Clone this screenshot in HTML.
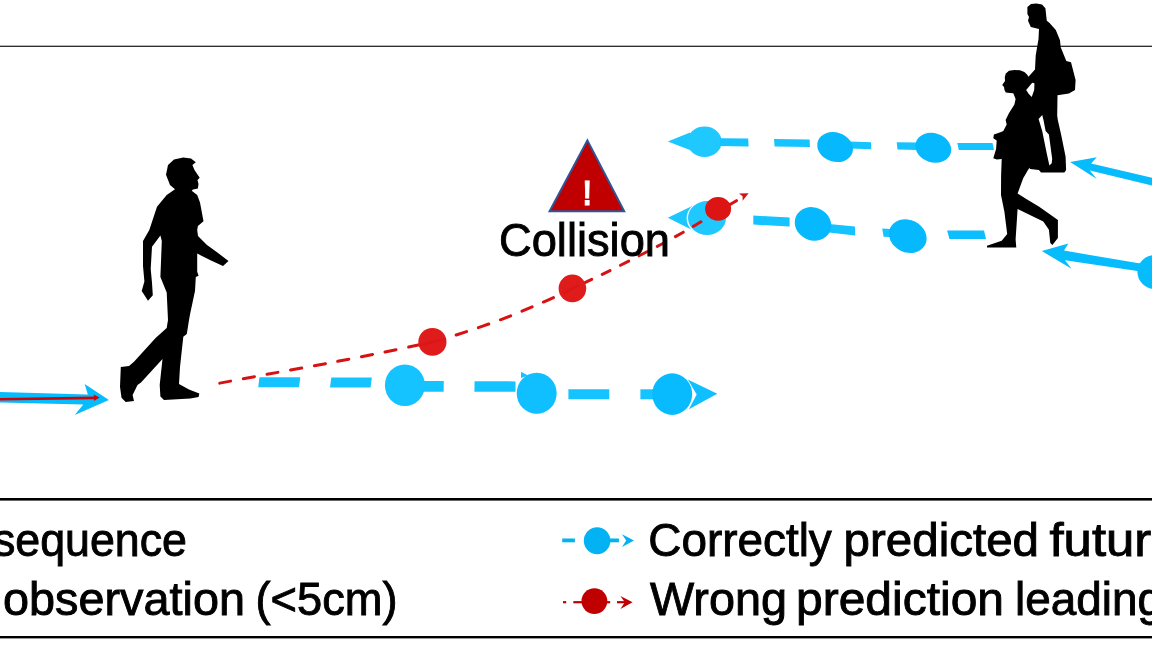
<!DOCTYPE html>
<html lang="en">
<head>
<meta charset="utf-8">
<title>Collision prediction figure</title>
<style>
html,body{margin:0;padding:0;background:#fff;overflow:hidden}
body{width:1152px;height:648px;position:relative;font-family:"Liberation Sans",sans-serif}
svg{display:block;position:absolute;left:0;top:0}
svg text{font-family:"Liberation Sans",sans-serif}
</style>
</head>
<body>
<svg width="1152" height="648" viewBox="0 0 1152 648">
<rect x="0" y="0" width="1152" height="648" fill="#fff"/>
<rect x="0" y="45.65" width="1152" height="1.35" fill="#2e2e2e"/>
<rect x="0" y="498" width="1152" height="2.6" fill="#000"/>
<rect x="0" y="636" width="1152" height="2.4" fill="#000"/>
<polygon points="0.0,392.0 87.8,394.4 84.7,384.0 108.9,400.0 74.7,415.1 83.3,404.6 0.0,402.6" fill="#07bcfd"/>
<polygon points="0.0,398.0 94.0,396.6 93.6,394.6 99.6,397.6 93.9,401.0 94.0,399.2 0.0,400.6" fill="#cf0505"/>
<polygon points="259.5,377.3 300.3,377.3 299.0,387.3 258.2,387.3" fill="#14c3ff"/>
<polygon points="331.3,377.5 371.8,377.5 370.6,387.5 330.0,387.5" fill="#14c3ff"/>
<polygon points="420.0,381.0 443.8,381.0 443.6,391.8 420.0,391.8" fill="#14c3ff"/>
<polygon points="474.6,381.2 515.5,381.4 515.5,391.8 474.4,391.8" fill="#14c3ff"/>
<polygon points="521.0,371.8 528.0,375.6 521.0,378.0" fill="#14c3ff"/>
<polygon points="568.4,389.3 609.3,389.3 609.3,399.3 568.4,399.3" fill="#14c3ff"/>
<ellipse cx="404.9" cy="385.2" rx="20" ry="20.8" fill="#14c3ff" transform="rotate(0 404.9 385.2)"/>
<ellipse cx="536.7" cy="393.3" rx="20" ry="20.5" fill="#0fbfff" transform="rotate(0 536.7 393.3)"/>
<polygon points="717.3,393.8 687.8,379.6 696.7,394.4 688.9,409.3" fill="#0fbfff"/>
<ellipse cx="671.4" cy="394.1" rx="21.4" ry="21.6" fill="#fff" transform="rotate(0 671.4 394.1)"/>
<polygon points="640.4,389.3 660.0,389.3 660.0,399.3 640.4,399.3" fill="#14c3ff"/>
<ellipse cx="672.2" cy="394.1" rx="20" ry="20.8" fill="#08bbff" transform="rotate(0 672.2 394.1)"/>
<polygon points="667.8,141.6 690.0,132.5 694.0,151.5" fill="#1cc6ff"/>
<ellipse cx="704.5" cy="141.7" rx="17.2" ry="15.2" fill="#1fc8ff" transform="rotate(0 704.5 141.7)"/>
<polygon points="720.0,138.2 748.2,138.6 748.6,146.4 720.0,146.0" fill="#14c3ff"/>
<polygon points="774.0,138.9 809.6,139.6 810.0,147.0 774.6,146.4" fill="#14c3ff"/>
<polygon points="850.0,141.6 871.0,142.2 871.3,149.2 850.0,148.6" fill="#14c3ff"/>
<polygon points="896.7,142.2 918.0,142.6 918.0,149.9 897.5,149.6" fill="#14c3ff"/>
<polygon points="957.3,142.9 992.5,142.9 994.0,150.0 958.8,150.0" fill="#14c3ff"/>
<ellipse cx="835.1" cy="147.1" rx="18.2" ry="14.6" fill="#06b9ff" transform="rotate(18 835.1 147.1)"/>
<ellipse cx="933.3" cy="147.8" rx="18.2" ry="14.6" fill="#06b9ff" transform="rotate(18 933.3 147.8)"/>
<polygon points="667.8,217.8 692.2,206.0 690.5,218.5 694.6,231.3" fill="#1cc6ff"/>
<ellipse cx="706.2" cy="218.3" rx="19.6" ry="17.6" fill="#fff" transform="rotate(0 706.2 218.3)"/>
<ellipse cx="707" cy="218.1" rx="19" ry="17" fill="#1fc8ff" transform="rotate(0 707 218.1)"/>
<polygon points="753.3,215.6 789.6,217.4 789.6,226.6 753.3,224.6" fill="#14c3ff"/>
<polygon points="829.0,224.0 854.9,226.6 855.2,235.4 829.0,232.4" fill="#14c3ff"/>
<polygon points="882.2,228.4 895.0,229.2 895.0,237.2 883.6,236.7" fill="#14c3ff"/>
<polygon points="947.1,230.6 984.0,230.6 986.0,239.0 949.5,239.0" fill="#0cbdff"/>
<ellipse cx="813" cy="223.9" rx="18.6" ry="16.4" fill="#06b9ff" transform="rotate(24 813 223.9)"/>
<ellipse cx="907.8" cy="236.1" rx="19.4" ry="16.2" fill="#06b9ff" transform="rotate(26 907.8 236.1)"/>
<polygon points="1070.1,161.9 1096.8,157.2 1091.2,163.4 1152.0,177.8 1152.0,185.6 1089.8,170.6 1096.8,178.9" fill="#07bcfd"/>
<polygon points="1041.8,251.1 1068.4,243.6 1064.0,250.6 1137.3,263.1 1152.0,264.5 1152.0,272.0 1137.3,270.9 1065.0,260.2 1071.6,268.7" fill="#07bcfd"/>
<ellipse cx="1155" cy="272" rx="17.6" ry="17" fill="#07bcfd" transform="rotate(0 1155 272)"/>
<path d="M218.9,383.3 C226.9,381.8 247.6,377.9 266.7,374.4 C285.8,370.9 311.1,366.4 333.3,362.2 C355.5,357.9 383.5,352.3 400.0,348.9 C416.5,345.5 427.0,343.0 432.4,341.8" fill="none" stroke="#d61212" stroke-width="3.0" stroke-dasharray="11.2 12.8" stroke-dashoffset="-1" stroke-linecap="round"/>
<path d="M432.4,341.8 C436.1,340.8 442.8,339.4 454.4,335.6 C465.9,331.9 486.9,324.9 501.7,319.3 C516.5,313.7 531.5,307.2 543.3,302.1 C555.1,297.0 567.5,290.7 572.4,288.4" fill="none" stroke="#d61212" stroke-width="3.0" stroke-dasharray="11 12.3" stroke-dashoffset="-1.5" stroke-linecap="round"/>
<path d="M572.4,288.4 C577.7,285.9 593.0,278.9 604.4,273.3 C615.8,267.7 630.4,260.2 640.6,255.0 C650.8,249.8 657.7,246.2 665.6,242.0 C673.5,237.8 682.0,232.9 687.8,229.6 C693.6,226.3 695.2,225.2 700.6,222.0 C706.0,218.8 713.4,214.4 720.0,210.5 C726.6,206.6 737.1,200.3 740.5,198.3" fill="none" stroke="#d61212" stroke-width="3.0" stroke-dasharray="9 11.6" stroke-dashoffset="8.3" stroke-linecap="round"/>
<ellipse cx="432.4" cy="341.9" rx="14.1" ry="13.9" fill="#e01b1b" transform="rotate(0 432.4 341.9)"/>
<ellipse cx="572.4" cy="288.4" rx="13.8" ry="13.8" fill="#e01b1b" transform="rotate(0 572.4 288.4)"/>
<ellipse cx="718.1" cy="208.9" rx="13" ry="11.9" fill="#dc1414" transform="rotate(0 718.1 208.9)"/>
<path d="M420,345 L446,338.8" fill="none" stroke="#d61212" stroke-width="2.4" opacity="0.55"/>
<path d="M563,293.5 L579,285" fill="none" stroke="#d61212" stroke-width="2.4" opacity="0.55"/>
<polygon points="748.6,193.2 739.0,193.4 742.6,196.2 742.6,200.8" fill="#d61212"/>
<polygon points="587.4,140.4 624.2,211.2 549.6,211.2" fill="#c00000" stroke="#2f5597" stroke-width="2" stroke-linejoin="miter"/>
<polygon points="183.3,157.4 191.0,158.5 195.8,162.2 192.4,165.0 194.5,170.0 199.7,177.8 197.5,180.0 198.5,184.0 197.9,188.6 193.0,189.5 191.7,190.7 197.2,194.9 200.0,202.5 203.5,221.3 197.9,226.0 197.2,230.0 198.0,236.0 207.0,245.0 216.7,252.0 228.5,261.0 223.0,266.0 211.0,260.5 197.2,253.6 197.2,271.7 198.6,275.8 195.8,277.0 195.0,291.0 190.3,313.0 189.0,320.0 186.8,334.0 183.3,336.7 180.0,367.0 179.0,384.0 189.0,389.4 199.3,393.6 198.6,397.0 190.3,398.5 164.0,400.0 160.4,396.4 159.7,385.0 162.5,359.0 141.0,382.5 137.5,385.0 132.6,395.0 134.0,401.0 125.7,402.0 121.5,397.8 120.0,386.7 120.8,367.0 129.0,366.0 134.0,361.7 155.6,338.0 166.7,328.0 168.0,320.0 166.7,292.5 160.4,277.0 161.8,241.0 160.4,235.6 152.0,246.7 150.7,269.0 152.0,282.8 152.8,295.3 148.0,300.8 141.7,291.0 144.4,281.4 143.0,266.0 143.0,241.0 149.3,230.0 157.0,206.7 166.7,194.9 175.0,189.3 170.0,185.0 166.0,174.7 168.0,165.0 174.0,159.5" fill="#000"/>
<polygon points="1036.4,3.5 1042.0,4.5 1045.4,8.3 1046.8,20.8 1049.6,23.0 1055.8,29.9 1060.0,40.3 1060.7,47.2 1066.3,61.0 1071.0,62.2 1075.6,80.0 1075.0,90.0 1068.9,93.5 1057.5,95.3 1057.2,115.6 1057.8,120.0 1061.1,134.4 1065.6,156.7 1066.1,170.0 1064.4,172.4 1041.1,172.4 1038.9,170.0 1030.0,168.9 1020.0,150.0 1016.0,100.0 1024.0,80.0 1029.4,75.7 1035.0,69.4 1035.7,55.5 1038.5,39.0 1039.0,29.0 1030.8,27.0 1028.0,20.8 1029.0,17.0 1027.4,14.0 1027.4,7.0 1031.0,4.0" fill="#000"/>
<polygon points="1014.4,70.0 1020.0,70.3 1024.4,72.0 1027.5,75.0 1029.0,79.0 1028.8,84.0 1026.5,88.5 1025.0,91.0 1028.0,96.0 1034.0,104.0 1036.0,130.0 1032.8,156.7 1031.7,164.4 1028.0,170.0 1023.2,178.3 1017.6,193.6 1026.7,199.2 1039.2,206.8 1055.8,218.6 1057.9,220.0 1057.9,238.0 1052.4,245.0 1050.3,243.0 1048.9,229.7 1043.3,221.4 1017.6,208.9 1015.6,239.4 1016.3,247.5 987.0,247.5 987.0,245.7 1001.7,240.8 1007.2,233.9 1004.4,211.7 1001.0,195.0 1001.1,175.6 1001.7,158.9 996.7,159.4 993.3,158.3 996.1,148.9 996.7,140.6 993.3,138.3 993.9,134.4 1001.1,132.0 1003.3,131.1 1006.7,124.4 1005.6,120.0 1006.7,117.8 1008.9,113.3 1014.4,104.4 1015.6,98.9 1013.3,93.3 1010.0,93.0 1005.8,92.4 1004.5,90.0 1004.0,87.0 1002.2,85.0 1005.0,81.0 1004.8,77.0 1005.8,73.5 1009.0,70.8" fill="#000"/>
<polygon points="1038.6,119.0 1042.2,115.0 1043.5,120.0 1045.6,131.0 1048.9,134.4 1052.2,158.9 1051.7,163.3 1049.4,165.6 1046.7,153.3 1042.2,131.1" fill="#fff"/>
<polygon points="1026.2,90.0 1029.5,86.0 1032.2,82.8 1034.4,83.3 1034.2,90.0 1031.7,97.0 1028.6,93.8" fill="#fff"/>
<rect x="562.2" y="538.5" width="12.7" height="3.8" fill="#03b2f3"/>
<rect x="606" y="538.5" width="12.9" height="3.8" fill="#03b2f3"/>
<ellipse cx="597.1" cy="540.8" rx="13.3" ry="13.5" fill="#03b2f3" transform="rotate(0 597.1 540.8)"/>
<polygon points="634.0,540.4 622.0,534.2 626.2,540.4 622.0,546.9" fill="#03b2f3"/>
<rect x="563" y="601.1" width="3.2" height="2.2" fill="#c00000"/>
<rect x="573.3" y="601.1" width="10" height="2.2" fill="#c00000"/>
<rect x="605" y="601.1" width="5.2" height="2.2" fill="#c00000"/>
<rect x="617" y="601.1" width="10" height="2.2" fill="#c00000"/>
<ellipse cx="594.4" cy="601.1" rx="12.9" ry="12.9" fill="#c00000" transform="rotate(0 594.4 601.1)"/>
<polygon points="632.6,602.2 620.4,596.0 624.8,602.2 620.4,609.0" fill="#c00000"/>
<text x="499" y="255.6" font-size="45.6" textLength="171" lengthAdjust="spacingAndGlyphs" fill="#000" stroke="#000" stroke-width="0.9" font-weight="normal">Collision</text>
<text x="582.4" y="204.6" font-size="35" textLength="9.4" lengthAdjust="spacingAndGlyphs" fill="#fff" stroke="#fff" stroke-width="0.9" font-weight="bold">!</text>
<text x="-7" y="555.5" font-size="45.6" textLength="194" lengthAdjust="spacingAndGlyphs" fill="#000" stroke="#000" stroke-width="0.9" font-weight="normal">sequence</text>
<text x="3" y="615.4" font-size="45.6" textLength="242" lengthAdjust="spacingAndGlyphs" fill="#000" stroke="#000" stroke-width="0.9" font-weight="normal">observation</text>
<text x="255.5" y="615.4" font-size="45.6" textLength="142" lengthAdjust="spacingAndGlyphs" fill="#000" stroke="#000" stroke-width="0.9" font-weight="normal">(&lt;5cm)</text>
<text x="648.3" y="555.5" font-size="45.6" textLength="183.5" lengthAdjust="spacingAndGlyphs" fill="#000" stroke="#000" stroke-width="0.9" font-weight="normal">Correctly</text>
<text x="843.6" y="555.5" font-size="45.6" textLength="195.4" lengthAdjust="spacingAndGlyphs" fill="#000" stroke="#000" stroke-width="0.9" font-weight="normal">predicted</text>
<text transform="translate(1049.5 555.5) scale(1.115 1)" font-size="45.6" fill="#000" stroke="#000" stroke-width="0.9">futur<tspan dx="3">e</tspan></text>
<text x="650" y="615.4" font-size="45.6" textLength="137" lengthAdjust="spacingAndGlyphs" fill="#000" stroke="#000" stroke-width="0.9" font-weight="normal">Wrong</text>
<text x="796" y="615.4" font-size="45.6" textLength="208" lengthAdjust="spacingAndGlyphs" fill="#000" stroke="#000" stroke-width="0.9" font-weight="normal">prediction</text>
<text x="1015" y="615.4" font-size="45.6" textLength="148" lengthAdjust="spacingAndGlyphs" fill="#000" stroke="#000" stroke-width="0.9" font-weight="normal">leading</text>
</svg>
</body>
</html>
